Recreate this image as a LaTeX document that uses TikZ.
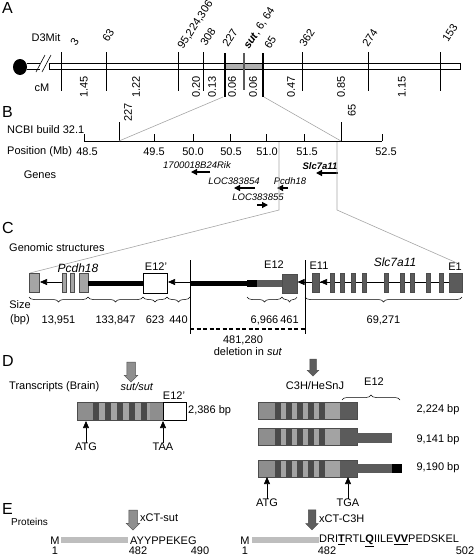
\documentclass[tikz,border=0pt]{standalone}
\usepackage{fontspec}
\setmainfont{Liberation Sans}
\usetikzlibrary{arrows.meta, shapes.geometric, shapes.arrows, decorations.pathreplacing}
\definecolor{cengray}{HTML}{B0B0B0}
\definecolor{markgray}{HTML}{5A5A5A}
\definecolor{zoomgray}{HTML}{A6A6A6}
\definecolor{pcdhgray}{HTML}{A5A5A5}
\definecolor{exondark}{HTML}{5B5B5B}
\definecolor{exonmid}{HTML}{8E8E8E}
\definecolor{stripelight}{HTML}{A3A3A3}
\definecolor{stripedark}{HTML}{4A4A4A}
\definecolor{arrowlight}{HTML}{8F8F8F}
\definecolor{arrowdark}{HTML}{5E5E5E}
\definecolor{protgray}{HTML}{BEBEBE}

\begin{document}
\begin{tikzpicture}[
	x=1pt, y=-1pt,
	>=Stealth,
	every node/.style={font=\fontsize{11}{13}\selectfont, inner sep=0pt},
	panel/.style={font=\fontsize{16}{18}\selectfont, anchor=north west},
	tick/.style={line width=0.6pt},
	marker/.style={line width=2pt},
	mitlabel/.style={rotate=57, anchor=base west},
	cmlabel/.style={rotate=90, anchor=east},
	zoomline/.style={draw=zoomgray, line width=0.6pt},
	genelabel/.style={font=\fontsize{9.5}{11}\selectfont\itshape},
	genearrow/.style={-{Triangle[length=6pt,width=6pt]}, line width=1.2pt},
	intron/.style={-{Triangle[length=7pt,width=6pt]}, line width=0.6pt},
	exon/.style={draw=black!70, line width=0.4pt},
	bigname/.style={font=\fontsize{12}{14}\selectfont\itshape},
	sizebrace/.style={decorate, decoration={brace, mirror, amplitude=5pt}, line width=0.5pt},
	blockarrow/.style={single arrow, shape border rotate=270, draw=black!70, line width=0.5pt,
		minimum height=20pt, inner sep=4pt, single arrow head extend=2.5pt},
	pointer/.style={-{Triangle[length=7pt,width=6pt]}, line width=0.6pt}
	]
	\useasboundingbox (0,0) rectangle (474,560);
	
	% ==========================================
	% PANEL A: genetic map, D3Mit markers
	% ==========================================
	\node[panel] (labA) at (2,2) {A};
	\node (d3mit) at (46,38) {D3Mit};
	\node (cm) at (42,88) {cM};
	
	% centromere and the broken chromosome bar
	\node[ellipse, fill, minimum width=14pt, minimum height=16pt] (centromere) at (20,67) {};
	\draw[tick] (27,63) -- (40,63) (27,69) -- (40,69);
	\draw[tick] (36,72) -- (45,55) (42,72) -- (51,55);
	\fill[cengray] (225,63) rectangle (263,69);
	\draw[tick] (49,63) rectangle (460,69);
	
	% marker ticks
	\foreach \x in {61,106,178,203,302,368,440}
		\draw[tick] (\x,52) -- (\x,91);
	\draw[marker] (225,53) -- (225,97);
	\draw[marker] (263,53) -- (263,97);
	\draw[marker, draw=markgray, line width=2.5pt] (244,53) -- (244,90);
	
	% marker names
	\foreach \x/\y/\nm [count=\i] in {76/47/3, 108/43/63, 183/50/{95,224,306}, 206/47/308,
		228/48/227, 270/50/65, 305/48/362, 368/48/274, 448/43/153}
		\node[mitlabel] (mk\i) at (\x,\y) {\nm};
	\node[mitlabel] (mksut) at (249,50) {\textbf{\textit{sut}}, 6, 64};
	
	% distances in cM
	\foreach \x/\d [count=\i] in {84/1.45, 136/1.22, 196/0.20, 212/0.13, 232/0.06, 253/0.06,
		291/0.47, 341/0.85, 402/1.15}
		\node[cmlabel] (cm\i) at (\x,76) {\d};
	
	% ==========================================
	% PANEL B: physical map (NCBI build 32.1)
	% ==========================================
	\node[panel] (labB) at (2,106) {B};
	\node[anchor=west] (ncbi) at (7,130) {NCBI build 32.1};
	\node[anchor=west] (position) at (7,152) {Position (Mb)};
	
	\draw[tick] (84,141) -- (382,141);
	\foreach \x in {84,154,193,230,266,304,382}
		\draw[tick] (\x,134) -- (\x,141);
	\coordinate (b227) at (119,141);
	\coordinate (b65) at (341,141);
	\draw[tick] (119,122) -- (b227);
	\draw[tick] (341,122) -- (b65);
	\node[rotate=90, anchor=south west] (lab227) at (132,122) {227};
	\node[rotate=90, anchor=south west] (lab65) at (356,117) {65};
	
	\foreach \x/\v [count=\i] in {87/48.5, 154/49.5, 193/50.0, 231/50.5, 267/51.0, 307/51.5, 386/52.5}
		\node (mb\i) at (\x,152) {\v};
	
	% zoom from A to B
	\coordinate (a227) at (223,97);
	\coordinate (a65) at (264,97);
	\draw[zoomline] (a227) -- (b227);
	\draw[zoomline] (a65) -- (b65);
	
	% genes
	\node (genes) at (40,175) {Genes};
	\node[genelabel] (g1700) at (197,165) {1700018B24Rik};
	\node[genelabel] (loc54) at (234,181) {LOC383854};
	\node[genelabel] (pcdhB) at (290,181) {Pcdh18};
	\node[genelabel] (loc55) at (258,197) {LOC383855};
	\node[genelabel, font=\fontsize{9.5}{11}\selectfont\bfseries\itshape] (slcB) at (320,166) {Slc7a11};
	\draw[genearrow] (210,172) -- (191,172);
	\draw[genearrow] (255,188) -- (234,188);
	\draw[genearrow] (288,188) -- (277,188);
	\draw[genearrow] (257,205) -- (268,205);
	\draw[genearrow] (338,173) -- (316,173);
	
	% zoom from B to C
	\draw[zoomline] (279,142) -- (279,210) -- (30,273);
	\draw[zoomline] (337,142) -- (337,210) -- (457,263);
	
	% ==========================================
	% PANEL C: genomic structures
	% ==========================================
	\node[panel] (labC) at (2,222) {C};
	\node[anchor=west] (genomic) at (9,248) {Genomic structures};
	
	% Pcdh18
	\draw[intron] (62,282) -- (40,282);
	\foreach \a/\b in {29/39, 62/66, 70/74, 79/88}
		\filldraw[exon, fill=pcdhgray] (\a,273) rectangle (\b,292);
	\fill (88,280.5) rectangle (143,285.5);
	\filldraw[exon, draw=black, fill=white] (143,273) rectangle (167,293);
	\draw[intron] (190,282) -- (168,282);
	\node[bigname] (pcdhC) at (78,268) {Pcdh18};
	\node (e12p) at (156,267) {E12'};
	
	% deletion borders
	\draw[tick] (190,260) -- (190,334);
	\draw[tick] (305,260) -- (305,334);
	
	% old E12 region
	\fill (190,280.5) rectangle (247,285.5);
	\fill (247,279.5) rectangle (257,287);
	\fill[exondark] (257,279.5) rectangle (282,287);
	\filldraw[exon, fill=exondark] (282,274) rectangle (297,293);
	\draw[intron] (305,282) -- (297.5,282);
	\node (e12) at (274,265) {E12};
	
	% Slc7a11
	\draw[tick] (305,282) -- (449,282);
	\foreach \a/\b in {312/319, 330/334, 340/344, 351/355, 362/366, 384/388, 400/404,
		410/414, 426/430, 439/443, 449/462}
		\filldraw[exon, fill=exondark] (\a,273) rectangle (\b,292);
	\draw[intron] (330,282) -- (320,282);
	\node (e11) at (319,266) {E11};
	\node (e1) at (455,267) {E1};
	\node[bigname] (slcC) at (395,262) {Slc7a11};
	
	% sizes
	\node (size) at (20,305) {Size};
	\node (bp) at (20,320) {(bp)};
	\foreach \a/\b/\len [count=\i] in {29/88/{13,951}, 88/143/{133,847}, 143/167/623, 167/190/440,
		247/282/{6,966}, 282/297/461, 305/462/{69,271}}
	{
		\draw[sizebrace] (\a,297) -- (\b,297);
		\node (sz\i) at ({(\a+\b)/2},320) {\len};
	}
	
	% deletion
	\draw[line width=1.2pt, dash pattern=on 4pt off 2.5pt] (190,329) -- (305,329);
	\node (dellen) at (243,340) {481,280};
	\node (deltext) at (248,352) {deletion in \textit{sut}};
	
	% ==========================================
	% PANEL D: transcripts
	% ==========================================
	\node[panel] (labD) at (2,355) {D};
	\node[anchor=west] (transcripts) at (9,387) {Transcripts (Brain)};
	\node[blockarrow, fill=arrowlight] (arrsut) at (131,370) {};
	\node (sutsut) at (137,387) {\textit{sut/sut}};
	
	% sut/sut transcript
	\fill[exonmid] (77,402) rectangle (163,420);
	\fill[stripelight] (93,402) rectangle (150,420);
	\foreach \s in {93,105,117,129,141}
		\fill[stripedark] (\s,402) rectangle (\s+6,420);
	\filldraw[exon, draw=black, fill=white] (163,402) rectangle (186,420);
	\draw[exon] (77,402) rectangle (163,420);
	\draw[line width=1pt] (163,402) -- (163,420);
	\node (e12pD) at (174,396) {E12'};
	\node[anchor=west] (bp2386) at (188,411) {2,386 bp};
	\node (atgA) at (86,447) {ATG};
	\node (taa) at (163,447) {TAA};
	\draw[pointer] (atgA.north) -- (86,421);
	\draw[pointer] (taa.north) -- (163,421);
	
	% C3H/HeSnJ transcripts
	\node[blockarrow, fill=arrowdark, minimum height=17pt, inner sep=3pt] (arrc3h) at (313,366) {};
	\node (c3h) at (315,386) {C3H/HeSnJ};
	\node (e12D) at (374,382) {E12};
	\draw[decorate, decoration={brace, amplitude=5pt}, line width=0.5pt] (342,400) -- (400,400);
	\foreach \y in {402,428,460}
	{
		\fill[exonmid] (258,\y) rectangle (275,\y+17);
		\fill[stripelight] (275,\y) rectangle (340,\y+17);
		\foreach \s in {275,286,297,308,319}
			\fill[stripedark] (\s,\y) rectangle (\s+6,\y+17);
		\fill[exondark] (340,\y) rectangle (357,\y+17);
		\draw[exon] (258,\y) rectangle (357,\y+17);
	}
	\fill[exondark] (357,433) rectangle (392,443);
	\fill[exondark] (357,464) rectangle (392,473);
	\fill (392,464) rectangle (402,473);
	\node (bp2224) at (438,410) {2,224 bp};
	\node (bp9141) at (438,440) {9,141 bp};
	\node (bp9190) at (438,468) {9,190 bp};
	\node (atgB) at (267,503) {ATG};
	\node (tga) at (348,503) {TGA};
	\draw[pointer] (atgB.north) -- (267,477);
	\draw[pointer] (tga.north) -- (348,477);
	
	% ==========================================
	% PANEL E: proteins
	% ==========================================
	\node[panel] (labE) at (2,503) {E};
	\node[anchor=west, font=\fontsize{10}{12}\selectfont] (proteins) at (11,522) {Proteins};
	
	% xCT-sut
	\node[blockarrow, fill=arrowlight] (arrsutE) at (133,518) {};
	\node[anchor=west] (xctsut) at (140,518) {xCT-sut};
	\node (mA) at (55,541) {M};
	\node (oneA) at (55,551) {1};
	\fill[protgray] (61,537) rectangle (128,543);
	\node[anchor=west] (seqsut) at (130,541) {AYYPPEKEG};
	\node (p482A) at (138,551) {482};
	\node (p490) at (200,551) {490};
	
	% xCT-C3H
	\node[blockarrow, fill=arrowdark, inner sep=3.5pt] (arrc3hE) at (312,518) {};
	\node[anchor=west] (xctc3h) at (319,519) {xCT-C3H};
	\node (mB) at (245,541) {M};
	\node (oneB) at (245,551) {1};
	\fill[protgray] (252,537) rectangle (319,543);
	\node[anchor=west] (seqc3h) at (319,541)
		{DRI\underline{\textbf{T}}RTL\underline{\textbf{Q}}IILE\underline{\textbf{VV}}PEDSKEL};
	\node (p482B) at (327,551) {482};
	\node (p502) at (465,551) {502};
\end{tikzpicture}
\end{document}
